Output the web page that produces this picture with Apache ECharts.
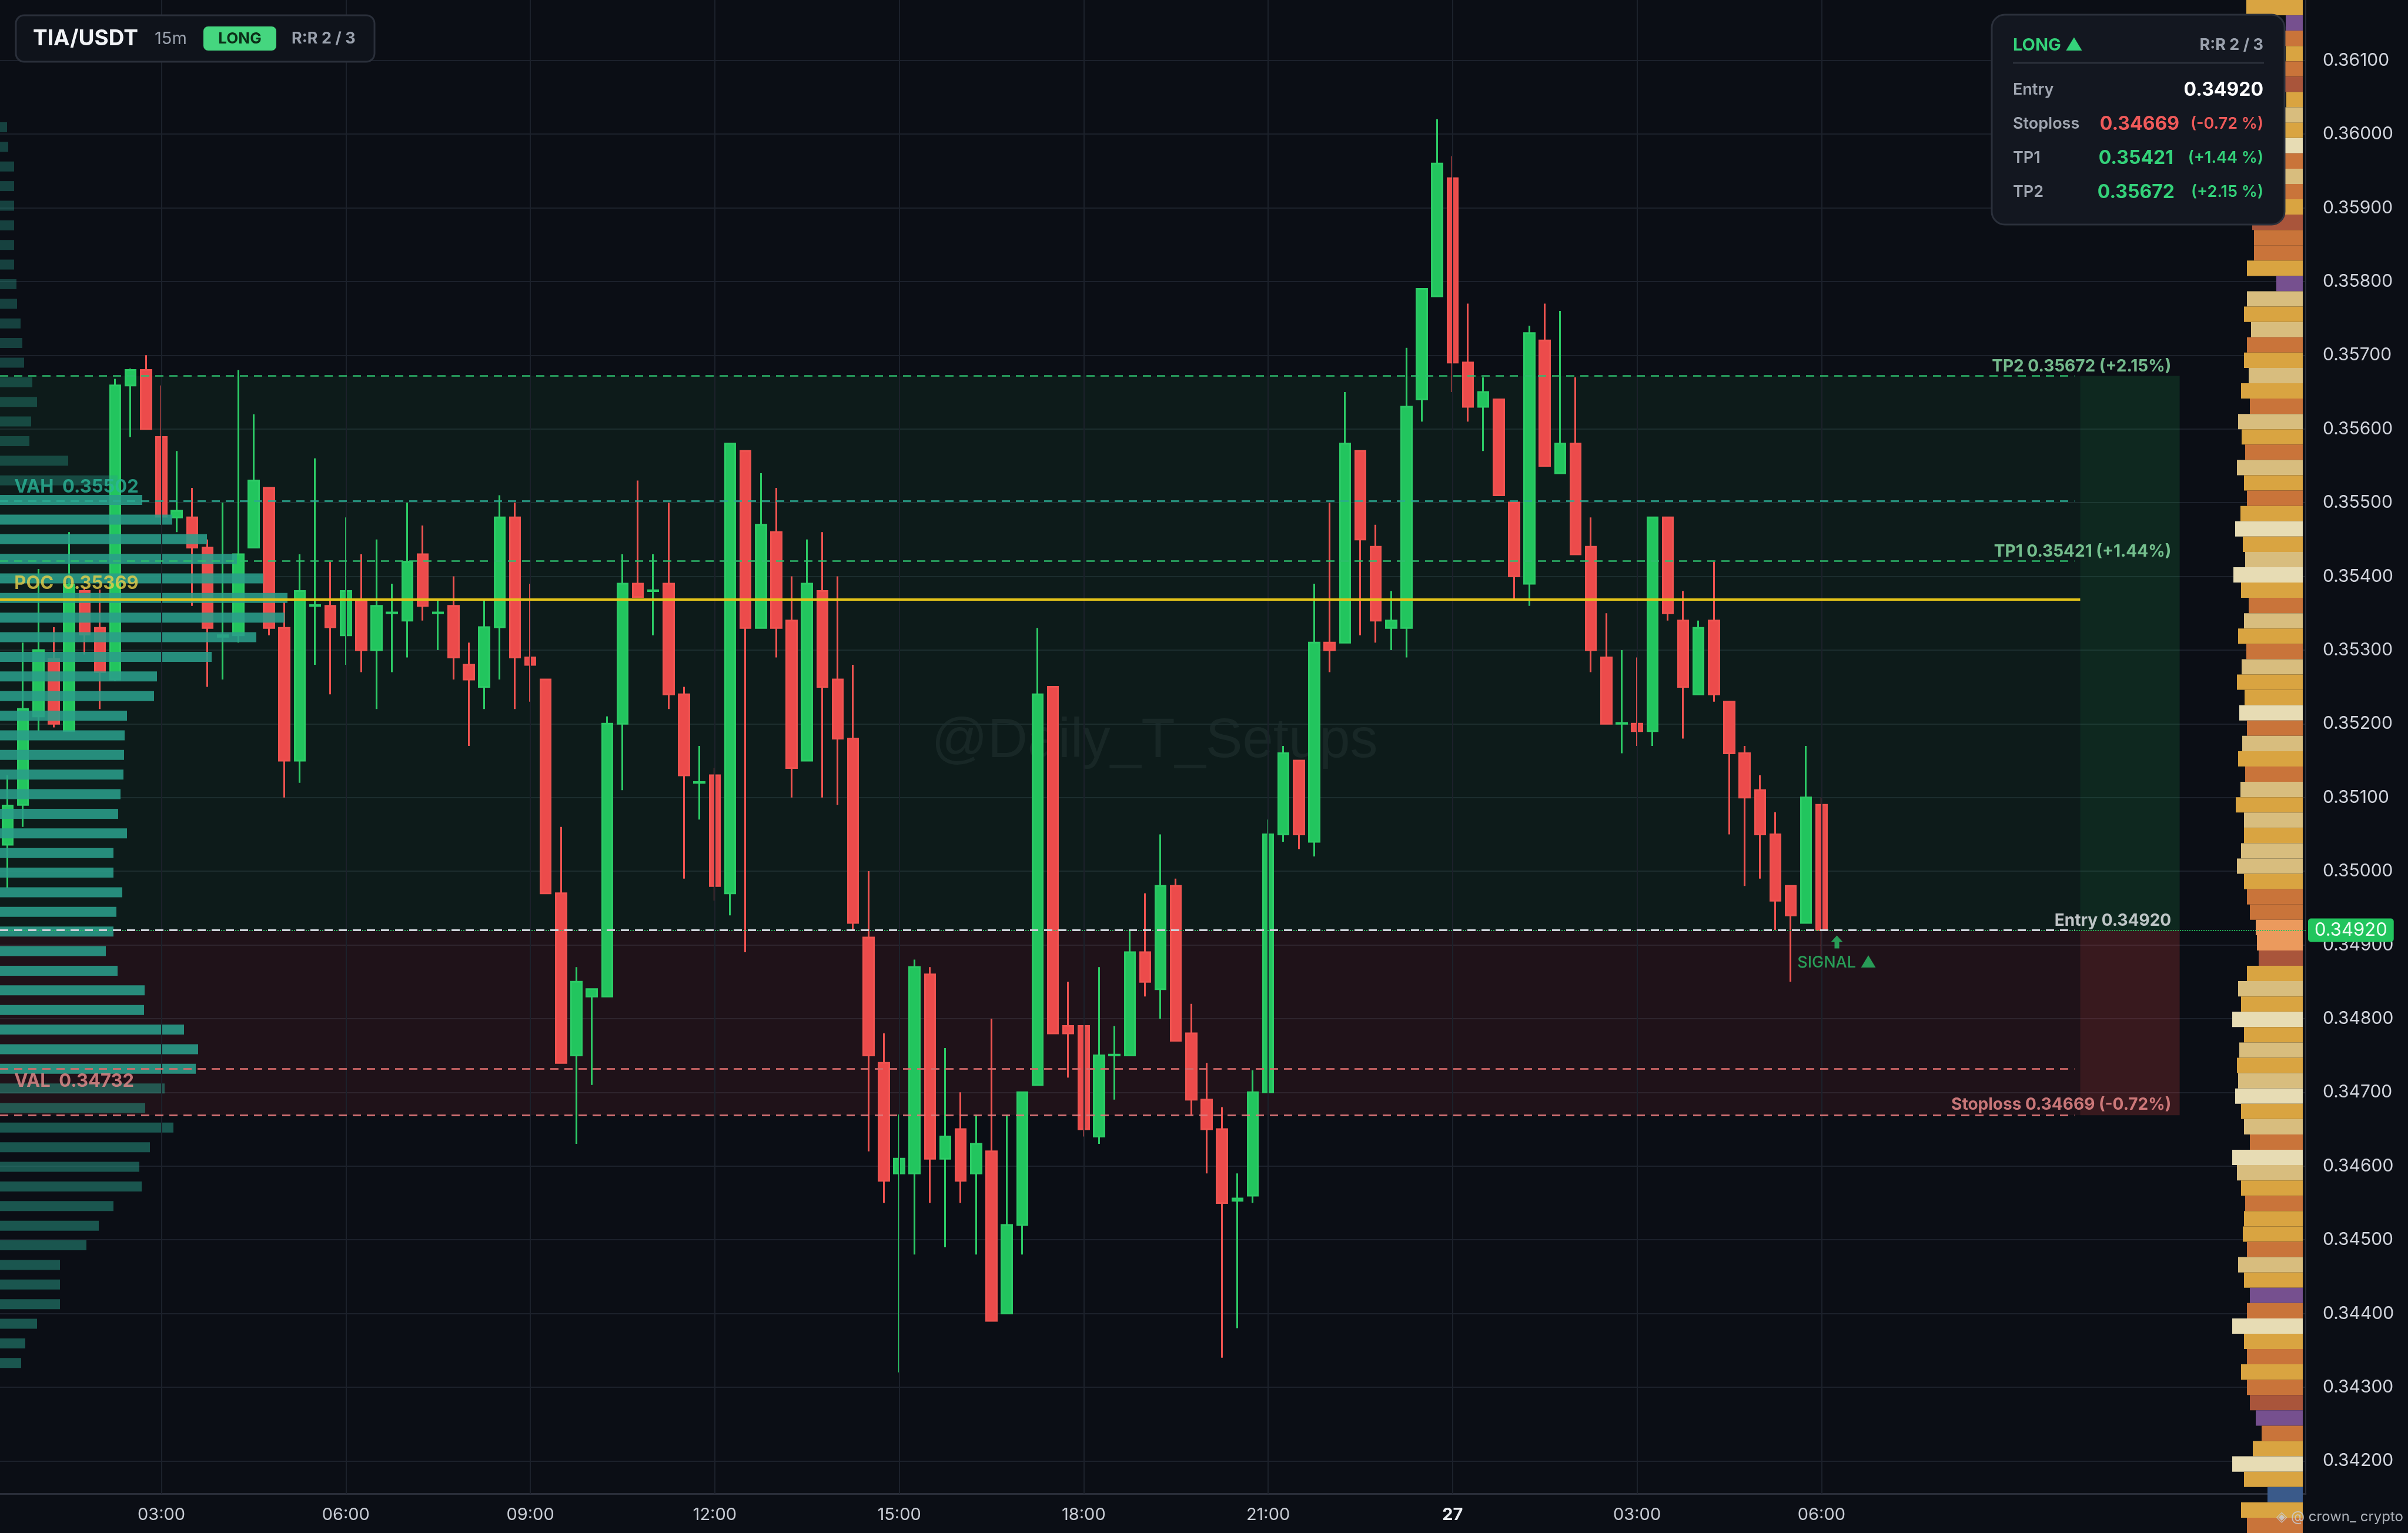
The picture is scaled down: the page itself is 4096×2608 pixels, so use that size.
<!DOCTYPE html>
<html><head><meta charset="utf-8">
<script src="https://cdn.jsdelivr.net/npm/echarts@6/dist/echarts.min.js"></script>
<style>html,body{margin:0;padding:0;background:#0b0e15;}#c{width:4096px;height:2608px;}</style>
</head><body><div id="c"></div>
<script>
// ---------- data ----------
const openPx = [0.35036,0.3509,0.3521,0.35288,0.3519,0.3538,0.3533,0.3526,0.35659,0.3568,
0.35589,0.3548,0.3548,0.35439,0.35318,0.3532,0.35439,0.3552,0.3533,0.3515,
0.3536,0.3536,0.3532,0.35367,0.3530,0.3535,0.3534,0.3543,0.3535,0.3536,
0.3528,0.3525,0.35331,0.3548,0.3529,0.3526,0.3497,0.3475,0.3483,0.3483,
0.3520,0.3539,0.3538,0.3539,0.3524,0.3512,0.3513,0.3497,0.3557,0.3533,
0.3546,0.3534,0.3515,0.3538,0.3526,0.3518,0.3491,0.3474,0.3459,0.3459,
0.3486,0.3461,0.3465,0.3459,0.3462,0.3440,0.3452,0.3471,0.3525,0.3479,
0.3479,0.3464,0.3475,0.3475,0.3489,0.3484,0.3498,0.3478,0.3469,0.3465,
0.34553,0.3456,0.3470,0.3505,0.3515,0.3504,0.3531,0.3531,0.3557,0.3544,
0.3533,0.3533,0.3564,0.3578,0.3594,0.3569,0.3563,0.3564,0.3550,0.3539,
0.3572,0.3554,0.3558,0.3544,0.3529,0.3520,0.3520,0.3519,0.3548,0.3534,
0.3524,0.3534,0.3523,0.3516,0.3511,0.3505,0.3498,0.3493,0.3509];
const closePx = [0.35089,0.3522,0.3530,0.3520,0.35389,0.35321,0.3527,0.35659,0.3568,0.3560,
0.35481,0.35489,0.35439,0.3533,0.3532,0.3543,0.3553,0.3533,0.3515,0.3538,
0.35361,0.35331,0.3538,0.3530,0.3536,0.35351,0.3542,0.3536,0.35351,0.3529,
0.3526,0.35331,0.3548,0.3529,0.3528,0.3497,0.3474,0.3485,0.3484,0.3520,
0.3539,0.35372,0.35381,0.3524,0.3513,0.35121,0.3498,0.3558,0.3533,0.3547,
0.3533,0.3514,0.3539,0.3525,0.3518,0.3493,0.3475,0.3458,0.3461,0.3487,
0.3461,0.3464,0.3458,0.3463,0.3439,0.3452,0.3470,0.3524,0.3478,0.3478,
0.3465,0.3475,0.34751,0.3489,0.3485,0.3498,0.3477,0.3469,0.3465,0.3455,
0.34556,0.3470,0.3505,0.3516,0.3505,0.3531,0.3530,0.3558,0.3545,0.3534,
0.3534,0.3563,0.3579,0.3596,0.3569,0.3563,0.3565,0.3551,0.3540,0.3573,
0.3555,0.3558,0.3543,0.3530,0.3520,0.35201,0.3519,0.3548,0.3535,0.3525,
0.3533,0.3524,0.3516,0.3510,0.3505,0.3496,0.3494,0.3510,0.3492];
const highPx = [0.3513,0.3531,0.3541,0.35331,0.3546,0.35385,0.35382,0.35668,0.35682,0.3570,
0.35659,0.3557,0.3552,0.3545,0.3550,0.3568,0.3562,0.3552,0.35365,0.3543,
0.3556,0.3542,0.3548,0.3543,0.3545,0.3539,0.3550,0.35469,0.3537,0.3540,
0.3531,0.3537,0.3551,0.3550,0.3539,0.3526,0.3506,0.3487,0.3484,0.3521,
0.3543,0.3553,0.3543,0.3550,0.3525,0.3517,0.3514,0.3558,0.3557,0.3554,
0.3552,0.3540,0.3545,0.3546,0.3540,0.3528,0.3500,0.3478,0.3467,0.3488,
0.3487,0.3476,0.3470,0.3467,0.3480,0.3467,0.3470,0.3533,0.3525,0.3485,
0.3479,0.3487,0.3479,0.3492,0.3497,0.3505,0.3499,0.3482,0.3474,0.3468,
0.3459,0.3473,0.3507,0.3517,0.3515,0.3539,0.3550,0.3565,0.3557,0.3547,
0.3538,0.3571,0.3579,0.3602,0.3597,0.3577,0.3567,0.3564,0.3550,0.3574,
0.3577,0.3576,0.3567,0.3548,0.3535,0.3530,0.3529,0.3548,0.3548,0.3538,
0.3534,0.3542,0.3523,0.3517,0.3513,0.3508,0.3498,0.3517,0.3510];
const lowPx = [0.34977,0.3506,0.3519,0.35195,0.3519,0.35294,0.3522,0.35258,0.35589,0.3560,
0.3547,0.3546,0.3536,0.3525,0.3526,0.3531,0.35439,0.3532,0.3510,0.3512,
0.3528,0.3524,0.3528,0.3527,0.3522,0.3527,0.3529,0.3534,0.3530,0.3526,
0.3517,0.3522,0.3526,0.3522,0.3523,0.3497,0.3474,0.3463,0.3471,0.3483,
0.3511,0.35372,0.3532,0.3522,0.3499,0.3507,0.3496,0.3494,0.3489,0.3533,
0.3529,0.3510,0.3515,0.3510,0.3509,0.3492,0.3462,0.3455,0.3432,0.3448,
0.3455,0.3449,0.3455,0.3448,0.3439,0.3440,0.3448,0.3471,0.3478,0.3472,
0.3464,0.3463,0.3469,0.3475,0.3483,0.3480,0.3477,0.3467,0.3459,0.3434,
0.3438,0.3455,0.3470,0.3504,0.3503,0.3502,0.3527,0.3531,0.3532,0.3531,
0.3530,0.3529,0.3561,0.3578,0.3565,0.3561,0.3557,0.3551,0.3537,0.3536,
0.3555,0.3554,0.3543,0.3527,0.3520,0.3516,0.3517,0.3517,0.3534,0.3518,
0.3524,0.3523,0.3505,0.3498,0.3499,0.3492,0.3485,0.3493,0.3488];

const tickIndex  = [10,22,34,46,58,70,82,94,106,118];
const tickLabels = ['03:00','06:00','09:00','12:00','15:00','18:00','21:00','27','03:00','06:00'];
const yTicks = [0.342,0.343,0.344,0.345,0.346,0.347,0.348,0.349,0.350,0.351,0.352,0.353,0.354,0.355,0.356,0.357,0.358,0.359,0.360,0.361];

const levels = { tp2:0.35672, tp1:0.35421, vah:0.35502, poc:0.35369, entry:0.34920, val:0.34732, sl:0.34669 };

// left (session) volume profile, top -> bottom
const leftProfileVol = [12,14,24,24,24,24,24,24,28,29,35,38,41,55,63,53,50,116,200,
242,293,352,403,448,489,484,436,360,267,262,216,212,211,210,205,201,216,193,193,208,198,193,180,200,246,245,313,337,333,
280,247,295,255,237,241,193,168,147,102,102,102,63,43,36];
const leftValueAreaFrom = 19, leftValueAreaTo = 48;

// right (heat) volume profile, top -> bottom
const rightProfileVol = [96,29,30,29,30,32,28,40,30,55,45,60,40,35,86,83,83,95,45,95,100,88,95,100,92,105,90,
110,104,98,112,100,95,106,115,102,98,118,105,92,100,110,96,104,112,99,108,95,103,110,98,106,114,100,
100,105,112,100,95,90,80,78,75,95,110,105,120,100,108,112,110,115,105,100,90,120,112,105,98,100,102,95,110,100,90,95,120,100,95,105,95,90,80,70,85,120,100,60,105,95];
const rightProfileTone = [0,5,3,0,3,4,0,1,0,2,3,1,3,0,4,3,3,0,5,1,0,1,3,0,1,0,3,
1,0,3,1,0,3,0,2,0,1,2,0,3,1,0,3,1,0,0,2,3,1,0,3,1,0,1,
0,1,1,0,3,3,6,6,4,0,1,0,2,0,1,0,1,2,0,1,3,2,1,0,3,0,0,3,1,0,5,3,2,0,3,0,3,4,5,3,0,2,0,7,0,3];
const tonePalette = ['#d9a441','#d8bd7e','#e7dcb4','#c9743a','#a9553b','#76508f','#eb9a5d','#3a5a8a'];

// ---------- layout helpers ----------
const N_SLOTS = 150;
const categories = [];
for (let i = 0; i < N_SLOTS; i++) {
  const m = 30 + i * 15, d = m >= 1440 ? 27 : 26, mm = m % 1440;
  categories.push(d + ' ' + String(Math.floor(mm / 60)).padStart(2, '0') + ':' + String(mm % 60).padStart(2, '0'));
}
const candleData = openPx.map((o, i) => [o, closePx[i], lowPx[i], highPx[i]]);
const yMin = 0.341556, yMax = 0.361819;
const LINE_END = 134.45, BOX_SPLIT = 134.83, BOX_END = 141.3, LABEL_END = 140.75, LEFT_LBL = 0.43;
const FONT = 'Inter';

const chart = echarts.init(document.getElementById('c'), null, { renderer: 'canvas' });

const dash = [14, 10];
function hline(y, color, type, width, xEnd) {
  return [{ coord: [-0.5, y], lineStyle: { color: color, type: type, width: width } }, { coord: [xEnd, y] }];
}
const hidden = { show: false, axisLine: { show: false, onZero: false }, axisTick: { show: false }, axisLabel: { show: false }, splitLine: { show: false } };

const option = {
  backgroundColor: '#0b0e15',
  animation: false,
  grid: [
    { left: -3.2, right: 174, top: 0, bottom: 67 },
    { left: 0, right: 0, top: 199.8, bottom: 272.5 },
    { left: 3600, right: 179, top: 0, bottom: 0 }
  ],
  xAxis: [
    { type: 'category', gridIndex: 0, data: categories, boundaryGap: true,
      axisLine: { show: true, onZero: false, lineStyle: { color: '#2a2e39', width: 3 } },
      axisTick: { show: false }, splitLine: { show: false },
      axisLabel: {
        interval: (idx) => tickIndex.indexOf(idx) >= 0,
        formatter: (v, idx) => { const k = tickIndex.indexOf(idx); const t = tickLabels[k]; return t === '27' ? '{b|27}' : t; },
        color: '#c8ccd4', fontSize: 29, fontFamily: FONT, margin: 22,
        rich: { b: { fontWeight: 'bold', fontSize: 29, color: '#eceef2', fontFamily: FONT } }
      } },
    Object.assign({ type: 'value', gridIndex: 0, min: -0.5, max: N_SLOTS - 0.5 }, hidden),
    Object.assign({ type: 'value', gridIndex: 1, min: 0, max: 4096 }, hidden),
    Object.assign({ type: 'value', gridIndex: 2, min: 0, max: 317, inverse: true }, hidden)
  ],
  yAxis: [
    { type: 'value', gridIndex: 0, position: 'right', min: yMin, max: yMax,
      axisLine: { show: true, onZero: false, lineStyle: { color: '#2a2e39', width: 2 } },
      axisTick: { show: false, customValues: yTicks },
      splitLine: { show: true, lineStyle: { color: '#1c212b', width: 2 } },
      axisLabel: { customValues: yTicks, formatter: (v) => v.toFixed(5), color: '#d1d4dc', fontSize: 30, fontFamily: FONT, margin: 29 } },
    Object.assign({ type: 'category', gridIndex: 1, inverse: true, data: leftProfileVol.map((v, i) => i) }, hidden),
    Object.assign({ type: 'category', gridIndex: 2, inverse: true, data: rightProfileVol.map((v, i) => i) }, hidden)
  ],
  series: [
    { name: 'zones', type: 'line', xAxisIndex: 1, yAxisIndex: 0, z: 1, data: [[-0.5, levels.entry]],
      symbol: 'none', lineStyle: { width: 0, opacity: 0 }, silent: true,
      markArea: { silent: true, data: [
        [{ coord: [-0.5, levels.tp2], itemStyle: { color: 'rgba(34,197,94,0.075)' } }, { coord: [BOX_SPLIT, levels.entry] }],
        [{ coord: [BOX_SPLIT, levels.tp2], itemStyle: { color: 'rgba(34,197,94,0.15)' } }, { coord: [BOX_END, levels.entry] }],
        [{ coord: [-0.5, levels.entry], itemStyle: { color: 'rgba(239,68,68,0.085)' } }, { coord: [BOX_SPLIT, levels.sl] }],
        [{ coord: [BOX_SPLIT, levels.entry], itemStyle: { color: 'rgba(239,68,68,0.2)' } }, { coord: [BOX_END, levels.sl] }]
      ] },
      markLine: { silent: true, symbol: ['none', 'none'], label: { show: false },
        lineStyle: { color: '#1c212b', width: 2, type: 'solid' },
        data: tickIndex.map(i => [{ coord: [i, yMin] }, { coord: [i, yMax] }]) }
    },
    { name: 'TIA/USDT', type: 'candlestick', xAxisIndex: 0, yAxisIndex: 0, z: 2, data: candleData,
      barWidth: 18,
      itemStyle: { color: '#22c55e', color0: '#ec4b4b', borderColor: '#2ccb66', borderColor0: '#ef5350', borderWidth: 3 } },
    { name: 'leftProfile', type: 'bar', xAxisIndex: 2, yAxisIndex: 1, z: 3, barWidth: 17, silent: true,
      data: leftProfileVol.map((v, i) => ({ value: v, itemStyle: { color: (i >= leftValueAreaFrom && i <= leftValueAreaTo) ? 'rgba(42,157,138,0.88)' : (i < leftValueAreaFrom ? 'rgba(42,157,138,0.36)' : 'rgba(42,157,138,0.5)') } })) },
    { name: 'rightProfile', type: 'bar', xAxisIndex: 3, yAxisIndex: 2, z: 3, barCategoryGap: '0%', silent: true,
      data: rightProfileVol.map((v, i) => ({ value: v, itemStyle: { color: tonePalette[rightProfileTone[i]] } })) },
    { name: 'levels', type: 'line', xAxisIndex: 1, yAxisIndex: 0, z: 4, data: [[-0.5, levels.entry]],
      symbol: 'none', lineStyle: { width: 0, opacity: 0 }, silent: true,
      markLine: { silent: true, symbol: ['none', 'none'], label: { show: false }, data: [
        hline(levels.tp2, 'rgba(46,190,110,0.75)', dash, 3, LINE_END),
        hline(levels.vah, 'rgba(42,170,145,0.8)', dash, 3, LINE_END),
        hline(levels.tp1, 'rgba(46,190,110,0.75)', dash, 3, LINE_END),
        hline(levels.poc, '#e3c31a', 'solid', 4, BOX_SPLIT),
        [{ coord: [-0.5, levels.entry], lineStyle: { color: 'rgba(34,197,94,0.9)', type: 'dotted', width: 2 },
           label: { show: true, position: 'end', formatter: '0.34920', backgroundColor: '#22c55e', color: '#f0fff4',
                    fontSize: 31, fontFamily: FONT, padding: [5, 11, 4, 11], borderRadius: 5, distance: 4 } },
         { coord: [N_SLOTS - 0.5, levels.entry] }],
        hline(levels.entry, '#cfd3da', dash, 3, LINE_END),
        hline(levels.val, 'rgba(214,106,106,0.85)', dash, 3, LINE_END),
        hline(levels.sl, 'rgba(224,120,122,0.9)', dash, 3, LINE_END)
      ] }
    },
    { name: 'labels', type: 'scatter', xAxisIndex: 1, yAxisIndex: 0, z: 6, silent: true, symbolSize: 0,
      data: [
        { value: [LABEL_END, levels.tp2], label: { show: true, formatter: 'TP2 0.35672 (+2.15%)', position: 'left', distance: 0, offset: [0, -16], color: '#8ee6aa', fontSize: 28, fontWeight: 'bold', fontFamily: FONT } },
        { value: [LABEL_END, levels.tp1], label: { show: true, formatter: 'TP1 0.35421 (+1.44%)', position: 'left', distance: 0, offset: [0, -16], color: '#8ee6aa', fontSize: 28, fontWeight: 'bold', fontFamily: FONT } },
        { value: [LABEL_END, levels.entry], label: { show: true, formatter: 'Entry 0.34920', position: 'left', distance: 0, offset: [0, -16], color: '#eceef1', fontSize: 28, fontWeight: 'bold', fontFamily: FONT } },
        { value: [LABEL_END, levels.sl], label: { show: true, formatter: 'Stoploss 0.34669 (-0.72%)', position: 'left', distance: 0, offset: [0, -18], color: '#f29090', fontSize: 28, fontWeight: 'bold', fontFamily: FONT } },
        { value: [LEFT_LBL, levels.vah], label: { show: true, formatter: 'VAH  0.35502', position: 'right', distance: 0, offset: [0, -24], color: '#2bb598', fontSize: 31, fontWeight: 'bold', fontFamily: FONT } },
        { value: [LEFT_LBL, levels.poc], label: { show: true, formatter: 'POC  0.35369', position: 'right', distance: 0, offset: [0, -27], color: '#e8d04a', fontSize: 31, fontWeight: 'bold', fontFamily: FONT } },
        { value: [LEFT_LBL, levels.val], label: { show: true, formatter: 'VAL  0.34732', position: 'right', distance: 0, offset: [0, 21], color: '#e88d8d', fontSize: 31, fontWeight: 'bold', fontFamily: FONT } },
        { value: [119, 0.34904], symbol: 'path://M5,0 L10,5 L7,5 L7,10 L3,10 L3,5 L0,5 Z', symbolSize: [20, 22], itemStyle: { color: '#2bbf66' } },
        { value: [119, 0.34876], label: { show: true, formatter: 'SIGNAL ▲', position: 'inside', color: '#2bbf66', fontSize: 27, fontWeight: 500, fontFamily: FONT } }
      ] }
  ],
  graphic: [
    { type: 'text', z: 0, style: { text: '@Daily_T_Setups', x: 1964, y: 1262, textAlign: 'center', textVerticalAlign: 'middle', font: '94px "Liberation Sans"', fill: 'rgba(190,196,208,0.07)' } },
    // header
    { type: 'rect', z: 100, shape: { x: 27, y: 26, width: 610, height: 79, r: 14 }, style: { fill: '#0f131b', stroke: '#2a2f3a', lineWidth: 3 } },
    { type: 'text', z: 101, style: { text: 'TIA/USDT', x: 56, y: 66, textAlign: 'left', textVerticalAlign: 'middle', font: 'bold 37px Inter', fill: '#f1f3f6' } },
    { type: 'text', z: 101, style: { text: '15m', x: 263, y: 66, textAlign: 'left', textVerticalAlign: 'middle', font: '29px Inter', fill: '#9aa1ad' } },
    { type: 'rect', z: 101, shape: { x: 346, y: 45, width: 124, height: 41, r: 8 }, style: { fill: '#45d67f' } },
    { type: 'text', z: 102, style: { text: 'LONG', x: 408, y: 66, textAlign: 'center', textVerticalAlign: 'middle', font: 'bold 26px Inter', fill: '#0b2e17' } },
    { type: 'text', z: 101, style: { text: 'R:R 2 / 3', x: 496, y: 66, textAlign: 'left', textVerticalAlign: 'middle', font: 'bold 27px Inter', fill: '#9aa1ad' } },
    // info panel
    { type: 'rect', z: 100, shape: { x: 3388, y: 25, width: 498, height: 357, r: 22 }, style: { fill: '#131720', stroke: '#2b303b', lineWidth: 3 } },
    { type: 'text', z: 101, style: { text: 'LONG ▲', x: 3424, y: 77, textAlign: 'left', textVerticalAlign: 'middle', font: 'bold 29px Inter', fill: '#34d27a' } },
    { type: 'text', z: 101, style: { text: 'R:R 2 / 3', x: 3850, y: 77, textAlign: 'right', textVerticalAlign: 'middle', font: 'bold 27px Inter', fill: '#9aa1ad' } },
    { type: 'line', z: 101, shape: { x1: 3424, y1: 107, x2: 3851, y2: 107 }, style: { stroke: '#2b303b', lineWidth: 3 } },
    { type: 'text', z: 101, style: { text: 'Entry', x: 3424, y: 153, textAlign: 'left', textVerticalAlign: 'middle', font: '600 27px Inter', fill: '#a0a6b1' } },
    { type: 'text', z: 101, style: { text: '0.34920', x: 3850, y: 153, textAlign: 'right', textVerticalAlign: 'middle', font: 'bold 32px Inter', fill: '#ffffff' } },
    { type: 'text', z: 101, style: { text: 'Stoploss', x: 3424, y: 211, textAlign: 'left', textVerticalAlign: 'middle', font: '600 27px Inter', fill: '#a0a6b1' } },
    { type: 'text', z: 101, style: { text: '0.34669', x: 3707, y: 211, textAlign: 'right', textVerticalAlign: 'middle', font: 'bold 32px Inter', fill: '#f05a5a' } },
    { type: 'text', z: 101, style: { text: '(-0.72 %)', x: 3850, y: 211, textAlign: 'right', textVerticalAlign: 'middle', font: '600 27px Inter', fill: '#f05a5a' } },
    { type: 'text', z: 101, style: { text: 'TP1', x: 3424, y: 269, textAlign: 'left', textVerticalAlign: 'middle', font: '600 27px Inter', fill: '#a0a6b1' } },
    { type: 'text', z: 101, style: { text: '0.35421', x: 3697, y: 269, textAlign: 'right', textVerticalAlign: 'middle', font: 'bold 32px Inter', fill: '#34d27a' } },
    { type: 'text', z: 101, style: { text: '(+1.44 %)', x: 3850, y: 269, textAlign: 'right', textVerticalAlign: 'middle', font: '600 27px Inter', fill: '#34d27a' } },
    { type: 'text', z: 101, style: { text: 'TP2', x: 3424, y: 327, textAlign: 'left', textVerticalAlign: 'middle', font: '600 27px Inter', fill: '#a0a6b1' } },
    { type: 'text', z: 101, style: { text: '0.35672', x: 3699, y: 327, textAlign: 'right', textVerticalAlign: 'middle', font: 'bold 32px Inter', fill: '#34d27a' } },
    { type: 'text', z: 101, style: { text: '(+2.15 %)', x: 3850, y: 327, textAlign: 'right', textVerticalAlign: 'middle', font: '600 27px Inter', fill: '#34d27a' } },
    // signature
    { type: 'text', z: 101, style: { text: '◈ @ crown_ crypto', x: 4088, y: 2581, textAlign: 'right', textVerticalAlign: 'middle', font: '24px Inter', fill: 'rgba(200,204,212,0.85)' } }
  ]
};
chart.setOption(option);
</script></body></html>
